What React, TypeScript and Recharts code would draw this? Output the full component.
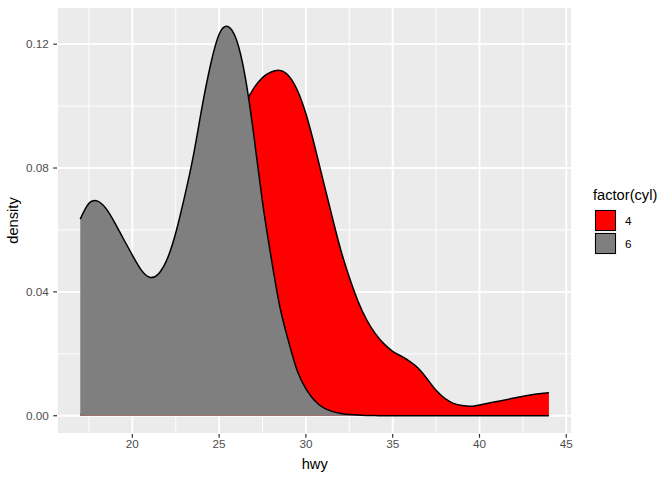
import { ComposedChart, Area, XAxis, YAxis, CartesianGrid, Label } from 'recharts';

// density estimates (hwy by cylinder group)
const hwy = [
  17, 17.5, 18, 18.5, 19, 19.5, 20, 20.5, 21, 21.5, 22, 22.5, 23, 23.5, 24, 24.5, 25, 25.5, 26, 26.5,
  27, 27.5, 28, 28.5, 29, 29.5, 30, 30.5, 31, 31.5, 32, 32.5, 33, 33.5, 34, 34.5, 35, 35.5, 36, 36.5,
  37, 37.5, 38, 38.5, 39, 39.5, 40, 41, 42, 43, 44,
];

const cyl4 = [
  0.0005, 0.0008, 0.0012, 0.0018, 0.0028, 0.0045, 0.007, 0.0105, 0.014, 0.0175, 0.021, 0.025, 0.03,
  0.037, 0.046, 0.057, 0.069, 0.081, 0.092, 0.1005, 0.1058, 0.1092, 0.111, 0.1115, 0.1098, 0.1052,
  0.0975, 0.0872, 0.0758, 0.0645, 0.0537, 0.0447, 0.037, 0.031, 0.0265, 0.0232, 0.0208, 0.0192,
  0.0175, 0.0152, 0.0118, 0.0082, 0.0056, 0.004, 0.0033, 0.0031, 0.0035, 0.0046, 0.0057, 0.0068,
  0.0074,
];

const cyl6 = [
  0.0635, 0.0686, 0.0693, 0.0668, 0.0622, 0.057, 0.0519, 0.0472, 0.0447, 0.0458, 0.0505, 0.059,
  0.0705, 0.0835, 0.0992, 0.1132, 0.1232, 0.1257, 0.1214, 0.1095, 0.0905, 0.069, 0.051, 0.0352, 0.024,
  0.0145, 0.0087, 0.0049, 0.0026, 0.0014, 0.0007, 0.0004, 0.0002, 0.0001, 0.00005, 0, 0, 0, 0, 0, 0,
  0, 0, 0, 0, 0, 0, 0, 0, 0, 0,
];

const groups = ['4', '6'];
const groupKeys = ['cyl4', 'cyl6'];
const fills = ['#FF0000', '#7F7F7F'];

const xTicks = [20, 25, 30, 35, 40, 45];
const xMinor = [17.5, 22.5, 27.5, 32.5, 37.5, 42.5];
const yTicks = [0, 0.04, 0.08, 0.12];
const yMinor = [0.02, 0.06, 0.1];

const FONT = '"Liberation Sans", Arial, Helvetica, sans-serif';

const xDomain = [15.66, 45.33];
const yDomain = [-0.0059, 0.132];

function scaleOf(axis: any, domain: number[], start: number, size: number, flip: boolean) {
  if (axis && typeof axis.scale === 'function') return (v: number) => axis.scale(v);
  return (v: number) => {
    const t = (v - domain[0]) / (domain[1] - domain[0]);
    return flip ? start + size * (1 - t) : start + size * t;
  };
}

export default function App() {
  const data = hwy.map((h, i) => ({ hwy: h, cyl4: cyl4[i], cyl6: cyl6[i] }));

  return (
    <div style={{ position: 'absolute', left: 0, top: 0, width: 672, height: 480, background: '#fff', fontFamily: FONT }}>
      <ComposedChart width={672} height={480} data={data} margin={{ top: 7, right: 100, bottom: 0, left: 0 }}>
        <CartesianGrid
          fill="#EBEBEB"
          stroke="#FFFFFF"
          strokeWidth={0.95}
          verticalCoordinatesGenerator={({ xAxis, offset }: any) => {
            const s = scaleOf(xAxis, xDomain, offset.left, offset.width, false);
            return xMinor.map(s);
          }}
          horizontalCoordinatesGenerator={({ yAxis, offset }: any) => {
            const s = scaleOf(yAxis, yDomain, offset.top, offset.height, true);
            return yMinor.map(s);
          }}
        />
        <CartesianGrid stroke="#FFFFFF" strokeWidth={1.9} fill="none" />
        <XAxis
          type="number"
          dataKey="hwy"
          domain={xDomain}
          allowDataOverflow
          ticks={xTicks}
          axisLine={false}
          tickLine={{ stroke: '#333333', strokeWidth: 1.2 }}
          tickSize={3.7}
          tickMargin={2}
          tick={{ fill: '#4D4D4D', fontSize: 11.7, fontFamily: FONT }}
          height={46}
        >
          <Label
            content={() => (
              <text x={314.7} y={469} textAnchor="middle" fontSize={14.67} fill="#000" fontFamily={FONT}>
                hwy
              </text>
            )}
          />
        </XAxis>
        <YAxis
          type="number"
          domain={yDomain}
          allowDataOverflow
          ticks={yTicks}
          tickFormatter={(v: number) => v.toFixed(2)}
          axisLine={false}
          tickLine={{ stroke: '#333333', strokeWidth: 1.2 }}
          tickSize={3.7}
          tickMargin={4.5}
          tick={{ fill: '#4D4D4D', fontSize: 11.7, fontFamily: FONT }}
          width={57}
        >
          <Label
            content={() => (
              <text
                x={17.5}
                y={220.5}
                transform="rotate(-90 17.5 220.5)"
                textAnchor="middle"
                fontSize={14.67}
                fill="#000"
                fontFamily={FONT}
              >
                density
              </text>
            )}
          />
        </YAxis>
        {groupKeys.map((k, i) => (
          <Area
            key={k}
            dataKey={k}
            type="natural"
            fill={fills[i]}
            fillOpacity={1}
            stroke="#000000"
            strokeWidth={1.5}
            dot={false}
            activeDot={false}
            isAnimationActive={false}
          />
        ))}
      </ComposedChart>

      <div style={{ position: 'absolute', left: 593, top: 186, fontSize: 14.67, lineHeight: '18px', color: '#000' }}>
        factor(cyl)
      </div>
      {groups.map((g, i) => (
        <div key={g} style={{ position: 'absolute', left: 594, top: 209 + i * 23, width: 23, height: 23, background: '#F2F2F2' }}>
          <div
            style={{
              position: 'absolute',
              left: 1,
              top: 1,
              width: 21,
              height: 21,
              boxSizing: 'border-box',
              border: '1.5px solid #000',
              background: fills[i],
            }}
          />
          <div style={{ position: 'absolute', left: 31, top: 0, lineHeight: '23px', fontSize: 11.7, color: '#000' }}>{g}</div>
        </div>
      ))}
    </div>
  );
}
